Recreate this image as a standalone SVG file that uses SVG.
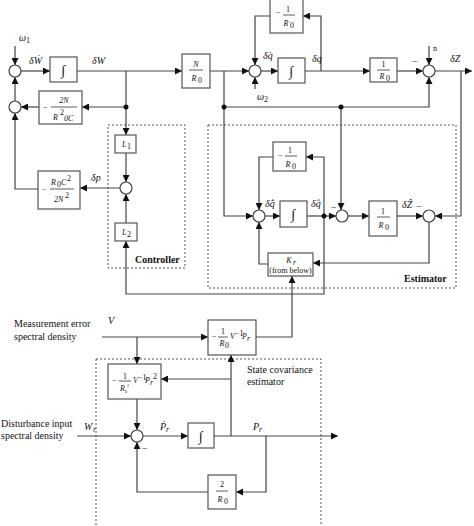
<svg xmlns="http://www.w3.org/2000/svg" width="474" height="526" viewBox="0 0 474 526">
<defs>
<marker id="a" viewBox="0 0 10 10" refX="10" refY="5" markerWidth="7" markerHeight="7" markerUnits="userSpaceOnUse" orient="auto"><path d="M0,0 L10,5 L0,10 z" fill="#111"/></marker>
<style>
.ln{stroke:#444;stroke-width:1.2;fill:none}
.ar{stroke:#444;stroke-width:1.2;fill:none;marker-end:url(#a)}
.bx{fill:#fff;stroke:#555;stroke-width:1.2}
.sj{fill:#fff;stroke:#444;stroke-width:1.2}
.dot{fill:#111}
.dash{fill:none;stroke:#555;stroke-width:1;stroke-dasharray:2 2}
.fr{stroke:#333;stroke-width:0.8}
text{font-family:"Liberation Serif","Times New Roman",serif;fill:#111}
.m{font-style:italic;font-size:10px}
.s{font-size:8px}
.si{font-size:8px;font-style:italic}
.t{font-size:10px}
.b{font-weight:bold;font-size:10px}
.int{font-size:14px}
</style>
</defs>
<rect width="474" height="526" fill="#fff"/>

<g id="frames">
<rect class="dash" x="108" y="125" width="77" height="143"/>
<rect class="dash" x="208" y="125" width="248" height="163"/>
<rect class="dash" x="96" y="359" width="225" height="180"/>
<text class="b" x="135" y="263">Controller</text>
<text class="b" x="404" y="282">Estimator</text>
<text class="t" x="247" y="373">State covariance</text>
<text class="t" x="247" y="385">estimator</text>
</g>

<g id="connectors">
<line class="ar" x1="15" y1="46" x2="15" y2="65"/>
<line class="ar" x1="21" y1="71" x2="50" y2="71"/>
<line class="ar" x1="77" y1="71" x2="182" y2="71"/>
<line class="ar" x1="126" y1="71" x2="126" y2="135"/>
<line class="ar" x1="126" y1="107" x2="82" y2="107"/>
<line class="ar" x1="39" y1="107" x2="21" y2="107"/>
<line class="ar" x1="15" y1="101" x2="15" y2="77"/>
<polyline class="ar" points="38,189 15,189 15,113"/>
<line class="ar" x1="126" y1="153" x2="126" y2="182"/>
<line class="ar" x1="120" y1="188" x2="80" y2="188"/>
<line class="ar" x1="126" y1="223" x2="126" y2="194"/>
<polyline class="ar" points="324,216 324,294 126,294 126,241"/>
<line class="ar" x1="210" y1="71" x2="249" y2="71"/>
<polyline class="ar" points="270,16 255,16 255,65"/>
<polyline class="ar" points="321,71 321,16 303,16"/>
<line class="ar" x1="261" y1="71" x2="278" y2="71"/>
<line class="ar" x1="255" y1="89" x2="255" y2="77"/>
<line class="ar" x1="305" y1="71" x2="370" y2="71"/>
<line class="ar" x1="397" y1="71" x2="423" y2="71"/>
<line class="ar" x1="429" y1="46" x2="429" y2="65"/>
<line class="ar" x1="435" y1="71" x2="472" y2="71"/>
<polyline class="ar" points="224,71 224,216 253,216"/>
<polyline class="ar" points="224,107 429,107 429,77"/>
<line class="ar" x1="341" y1="107" x2="341" y2="210"/>
<polyline class="ar" points="461,71 461,216 435,216"/>
<polyline class="ar" points="273,157 259,157 259,210"/>
<polyline class="ar" points="324,216 324,157 306,157"/>
<line class="ar" x1="265" y1="216" x2="280" y2="216"/>
<line class="ar" x1="307" y1="216" x2="336" y2="216"/>
<line class="ar" x1="348" y1="216" x2="369" y2="216"/>
<line class="ar" x1="397" y1="216" x2="423" y2="216"/>
<polyline class="ar" points="429,222 429,263 313,263"/>
<polyline class="ar" points="268,264 259,264 259,222"/>
<polyline class="ar" points="256,337 292,337 292,276"/>
<line class="ar" x1="102" y1="337" x2="208" y2="337"/>
<line class="ar" x1="137" y1="337" x2="137" y2="364"/>
<line class="ar" x1="231" y1="436" x2="231" y2="355"/>
<line class="ar" x1="231" y1="379" x2="161" y2="379"/>
<line class="ar" x1="77" y1="436" x2="131" y2="436"/>
<line class="ar" x1="137" y1="399" x2="137" y2="430"/>
<line class="ar" x1="143" y1="436" x2="188" y2="436"/>
<line class="ar" x1="214" y1="436" x2="338" y2="436"/>
<polyline class="ar" points="266,436 266,492 236,492"/>
<polyline class="ar" points="208,492 137,492 137,442"/>
</g>

<g id="dots">
<circle class="dot" cx="126" cy="107" r="2.5"/>
<circle class="dot" cx="224" cy="107" r="2.5"/>
<circle class="dot" cx="341" cy="107" r="2.5"/>
<circle class="dot" cx="324" cy="216" r="2.5"/>
</g>

<g id="sum1"><circle class="sj" cx="15" cy="71" r="6"/></g>
<g id="sum2"><circle class="sj" cx="15" cy="107" r="6"/></g>
<g id="sum3"><circle class="sj" cx="255" cy="71" r="6"/></g>
<g id="sum4"><circle class="sj" cx="429" cy="71" r="6"/></g>
<g id="sum5"><circle class="sj" cx="126" cy="188" r="6"/></g>
<g id="sum6"><circle class="sj" cx="259" cy="216" r="6"/></g>
<g id="sum7"><circle class="sj" cx="342" cy="216" r="6"/></g>
<g id="sum8"><circle class="sj" cx="429" cy="216" r="6"/></g>
<g id="sum9"><circle class="sj" cx="137" cy="436" r="6"/></g>

<g id="int1"><rect class="bx" x="50" y="57" width="27" height="25"/><text class="int" x="63.5" y="75" text-anchor="middle">∫</text></g>
<g id="int2"><rect class="bx" x="278" y="58" width="27" height="25"/><text class="int" x="291.5" y="76" text-anchor="middle">∫</text></g>
<g id="int3"><rect class="bx" x="280" y="201" width="27" height="26"/><text class="int" x="293.5" y="219" text-anchor="middle">∫</text></g>
<g id="int4"><rect class="bx" x="188" y="423" width="26" height="25"/><text class="int" x="201" y="441" text-anchor="middle">∫</text></g>

<g id="gainN">
<rect class="bx" x="182" y="54" width="28" height="34"/>
<text class="si" x="196" y="67" text-anchor="middle">N</text>
<line class="fr" x1="189" y1="70" x2="203" y2="70"/>
<text class="si" x="194" y="81" text-anchor="middle">R</text><text class="s" x="200" y="83" text-anchor="middle" font-size="6">0</text>
</g>

<g id="gain2N">
<rect class="bx" x="39" y="91" width="43" height="33"/>
<text class="s" x="43" y="110">−</text>
<text class="si" x="64" y="103" text-anchor="middle">2N</text>
<line class="fr" x1="51" y1="107" x2="77" y2="107"/>
<text class="si" x="53" y="120">R</text><text class="s" x="60" y="115" font-size="6">2</text><text class="si" x="64" y="121">0C</text>
</g>

<g id="gainR0C">
<rect class="bx" x="38" y="171" width="42" height="38"/>
<text class="s" x="42" y="192">−</text>
<text class="si" x="51" y="185">R</text><text class="s" x="57" y="187" font-size="6">0</text><text class="si" x="61" y="185">C</text><text class="s" x="67" y="181" font-size="6">2</text>
<line class="fr" x1="50" y1="189" x2="74" y2="189"/>
<text class="si" x="54" y="202">2N</text><text class="s" x="65" y="198" font-size="6">2</text>
</g>

<g id="L1"><rect class="bx" x="115" y="135" width="21" height="18"/><text class="si" x="122" y="147">L</text><text class="s" x="127" y="149" font-size="5">1</text></g>
<g id="L2"><rect class="bx" x="115" y="223" width="22" height="18"/><text class="si" x="122" y="235">L</text><text class="s" x="127" y="237" font-size="5">2</text></g>

<g id="fbTop">
<rect class="bx" x="270" y="-1" width="33" height="34"/>
<text class="s" x="276" y="15">−</text>
<text class="s" x="288" y="12" text-anchor="middle">1</text>
<line class="fr" x1="283" y1="15" x2="295" y2="15"/>
<text class="si" x="286" y="26" text-anchor="middle">R</text><text class="s" x="292" y="28" text-anchor="middle" font-size="6">0</text>
</g>

<g id="outPlant">
<rect class="bx" x="370" y="58" width="27" height="24"/>
<text class="s" x="383.5" y="67" text-anchor="middle">1</text>
<line class="fr" x1="377" y1="70" x2="390" y2="70"/>
<text class="si" x="382" y="79" text-anchor="middle">R</text><text class="s" x="388" y="81" text-anchor="middle" font-size="6">0</text>
</g>

<g id="fbEst">
<rect class="bx" x="273" y="142" width="33" height="29"/>
<text class="s" x="278" y="158">−</text>
<text class="s" x="290" y="153" text-anchor="middle">1</text>
<line class="fr" x1="285" y1="156" x2="297" y2="156"/>
<text class="si" x="288" y="167" text-anchor="middle">R</text><text class="s" x="294" y="169" text-anchor="middle" font-size="6">0</text>
</g>

<g id="outEst">
<rect class="bx" x="369" y="201" width="28" height="35"/>
<text class="s" x="383" y="214" text-anchor="middle">1</text>
<line class="fr" x1="377" y1="217" x2="390" y2="217"/>
<text class="si" x="381" y="228" text-anchor="middle">R</text><text class="s" x="387" y="230" text-anchor="middle" font-size="6">0</text>
</g>

<g id="Kr">
<rect class="bx" x="268" y="253" width="45" height="23"/>
<text class="si" x="289" y="263" text-anchor="middle">K</text><text class="si" x="293" y="265" font-size="5">r</text>
<text class="s" x="290.5" y="273" text-anchor="middle" font-size="6.5">(from below)</text>
</g>

<g id="gainA">
<rect class="bx" x="208" y="320" width="48" height="35"/>
<text class="s" x="212" y="339">−</text>
<text class="s" x="223" y="334" text-anchor="middle" font-size="7">1</text>
<line class="fr" x1="218" y1="337" x2="228" y2="337"/>
<text class="si" x="222" y="346" text-anchor="middle" font-size="6">R</text><text class="s" x="225" y="348" font-size="4">0</text>
<text class="si" x="230" y="339" font-size="7">V</text><text class="s" x="235" y="336" font-size="5">−1</text><text class="si" x="242" y="339" font-size="7">P</text><text class="si" x="247" y="341" font-size="5">r</text>
</g>

<g id="gainB">
<rect class="bx" x="108" y="364" width="53" height="35"/>
<text class="s" x="112" y="383">−</text>
<text class="s" x="125" y="379" text-anchor="middle" font-size="7">1</text>
<line class="fr" x1="119" y1="381" x2="131" y2="381"/>
<text class="si" x="120" y="391" font-size="6"><tspan>R</tspan><tspan font-style="normal" font-size="4" dy="2">0</tspan><tspan font-style="normal" font-size="4" dy="-6">2</tspan></text>
<text class="si" x="133" y="383" font-size="7">V</text><text class="s" x="138" y="380" font-size="5">−1</text><text class="si" x="145" y="383" font-size="7">P</text><text class="si" x="150" y="385" font-size="5">r</text><text class="s" x="153" y="379" font-size="5">2</text>
</g>

<g id="gain2R0">
<rect class="bx" x="208" y="475" width="28" height="34"/>
<text class="s" x="222" y="487" text-anchor="middle">2</text>
<line class="fr" x1="216" y1="491" x2="228" y2="491"/>
<text class="si" x="220" y="502" text-anchor="middle">R</text><text class="s" x="226" y="504" text-anchor="middle" font-size="6">0</text>
</g>

<g id="labels">
<text class="m" x="19" y="41">ω</text><text class="s" x="26" y="43" font-size="6">1</text>
<text class="m" x="29" y="64">δẆ</text>
<text class="m" x="92" y="64">δW</text>
<text class="m" x="263" y="59">δq̇</text>
<text class="m" x="312" y="62">δq</text>
<text class="m" x="257" y="100">ω</text><text class="s" x="264" y="102" font-size="6">2</text>
<text class="t" x="412" y="65">−</text>
<text class="s" x="433" y="51">n</text>
<text class="m" x="450" y="62">δZ</text>
<text class="m" x="91" y="181">δp</text>
<text class="m" x="265" y="207">δq̂̇</text>
<text class="m" x="311" y="207">δq̂</text>
<text class="t" x="331" y="211">−</text>
<text class="m" x="402" y="208">δẐ</text>
<text class="t" x="416" y="210">−</text>
<text class="t" x="14" y="327">Measurement error</text>
<text class="t" x="14" y="340">spectral density</text>
<text class="m" x="108" y="324">V</text>
<text class="t" x="1" y="427">Disturbance input</text>
<text class="t" x="1" y="439">spectral density</text>
<text class="m" x="84" y="430">W</text><text class="si" x="93" y="432" font-size="6">r</text>
<text class="m" x="160" y="430">Ṗ</text><text class="si" x="166" y="432" font-size="6">r</text>
<text class="m" x="253" y="430">P</text><text class="si" x="259" y="432" font-size="6">r</text>
<text class="t" x="142" y="452">−</text>
</g>
</svg>
